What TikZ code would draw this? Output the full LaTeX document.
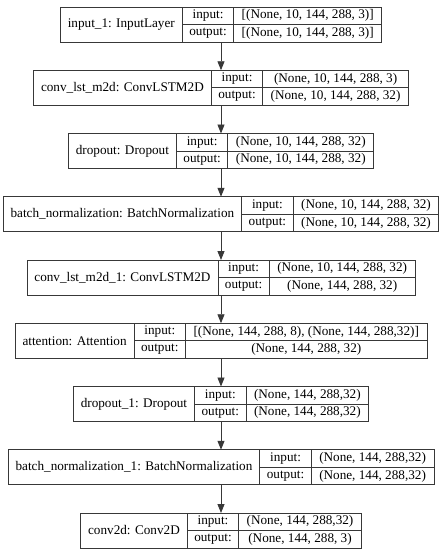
\documentclass[tikz,border=0pt]{standalone}
\usepackage{fontspec}
\setmainfont{Liberation Serif}
\usetikzlibrary{arrows.meta}
\definecolor{edgecol}{gray}{0.22}
\newlength\lwA \newlength\lwB \newlength\lwC \newlength\lwD \newlength\lxs
\newcommand\fnt{\fontsize{13.2}{15}\selectfont}
\tikzset{
  cellbox/.style={draw=edgecol, line width=0.8pt, inner sep=0pt, outer sep=0pt, text=black, font=\fnt},
  lbl/.style={cellbox, minimum height=35pt},
  half/.style={cellbox, minimum height=17.5pt},
  flow/.style={draw=edgecol, line width=0.8pt, -{Triangle[length=9pt,width=7pt]}}
}
% measure widths outside the picture
\newcommand\measure[4]{%
  \settowidth\lwA{\fnt #2}%
  \settowidth\lwB{\fnt output:}%
  \settowidth\lwC{\fnt #3}%
  \settowidth\lwD{\fnt #4}%
  \ifdim\lwD>\lwC \lwC=\lwD\fi
  \addtolength\lwA{15pt}\addtolength\lwB{14pt}\addtolength\lwC{16pt}%
  \setlength\lxs{\dimexpr 221pt-(\lwA+\lwB+\lwC)/2\relax}%
  \expandafter\xdef\csname wa#1\endcsname{\the\lwA}%
  \expandafter\xdef\csname wb#1\endcsname{\the\lwB}%
  \expandafter\xdef\csname wc#1\endcsname{\the\lwC}%
  \expandafter\xdef\csname xs#1\endcsname{\the\lxs}%
}
\newcommand\layerbox[5]{%
  \pgfmathsetmacro\ytop{-(7+63.25*#2)}%
  \node[lbl, minimum width=\csname wa#1\endcsname, anchor=north west] (#1) at (\csname xs#1\endcsname,\ytop pt) {#3};
  \node[half, minimum width=\csname wb#1\endcsname, anchor=north west] (#1-i) at (#1.north east) {input:};
  \node[half, minimum width=\csname wb#1\endcsname, anchor=north west] (#1-o) at (#1-i.south west) {output:};
  \node[half, minimum width=\csname wc#1\endcsname, anchor=north west] (#1-iv) at (#1-i.north east) {#4};
  \node[half, minimum width=\csname wc#1\endcsname, anchor=north west] (#1-ov) at (#1-iv.south west) {#5};
}
\begin{document}%
\measure{L0}{input\_1: InputLayer}{[(None, 10, 144, 288, 3)]}{[(None, 10, 144, 288, 3)]}%
\measure{L1}{conv\_lst\_m2d: ConvLSTM2D}{(None, 10, 144, 288, 3)}{(None, 10, 144, 288, 32)}%
\measure{L2}{dropout: Dropout}{(None, 10, 144, 288, 32)}{(None, 10, 144, 288, 32)}%
\measure{L3}{batch\_normalization: BatchNormalization}{(None, 10, 144, 288, 32)}{(None, 10, 144, 288, 32)}%
\measure{L4}{conv\_lst\_m2d\_1: ConvLSTM2D}{(None, 10, 144, 288, 32)}{(None, 144, 288, 32)}%
\measure{L5}{attention: Attention}{[(None, 144, 288, 8), (None, 144, 288,32)]}{(None, 144, 288, 32)}%
\measure{L6}{dropout\_1: Dropout}{(None, 144, 288,32)}{(None, 144, 288,32)}%
\measure{L7}{batch\_normalization\_1: BatchNormalization}{(None, 144, 288,32)}{(None, 144, 288,32)}%
\measure{L8}{conv2d: Conv2D}{(None, 144, 288,32)}{(None, 144, 288, 3)}%
\begin{tikzpicture}[x=1pt,y=1pt]
\useasboundingbox (0,0) rectangle (442,-550);
\coordinate (ax) at (221,0);
\layerbox{L0}{0}{input\_1: InputLayer}{[(None, 10, 144, 288, 3)]}{[(None, 10, 144, 288, 3)]}
\layerbox{L1}{1}{conv\_lst\_m2d: ConvLSTM2D}{(None, 10, 144, 288, 3)}{(None, 10, 144, 288, 32)}
\layerbox{L2}{2}{dropout: Dropout}{(None, 10, 144, 288, 32)}{(None, 10, 144, 288, 32)}
\layerbox{L3}{3}{batch\_normalization: BatchNormalization}{(None, 10, 144, 288, 32)}{(None, 10, 144, 288, 32)}
\layerbox{L4}{4}{conv\_lst\_m2d\_1: ConvLSTM2D}{(None, 10, 144, 288, 32)}{(None, 144, 288, 32)}
\layerbox{L5}{5}{attention: Attention}{[(None, 144, 288, 8), (None, 144, 288,32)]}{(None, 144, 288, 32)}
\layerbox{L6}{6}{dropout\_1: Dropout}{(None, 144, 288,32)}{(None, 144, 288,32)}
\layerbox{L7}{7}{batch\_normalization\_1: BatchNormalization}{(None, 144, 288,32)}{(None, 144, 288,32)}
\layerbox{L8}{8}{conv2d: Conv2D}{(None, 144, 288,32)}{(None, 144, 288, 3)}
\foreach \a/\b in {L0/L1,L1/L2,L2/L3,L3/L4,L4/L5,L5/L6,L6/L7,L7/L8}
  \draw[flow] (\a.south -| ax) -- (\b.north -| ax);
\end{tikzpicture}%
\end{document}
